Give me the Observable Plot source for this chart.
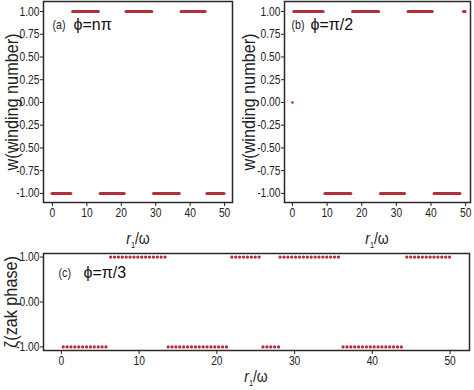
<!DOCTYPE html>
<html><head><meta charset="utf-8">
<script src="https://cdn.jsdelivr.net/npm/d3@7"></script>
<script src="https://cdn.jsdelivr.net/npm/@observablehq/plot@0.6"></script>
<style>
body{margin:0;background:#fff}
#fig{position:relative;width:474px;height:390px;overflow:hidden;background:#fff}
.panel{position:absolute}
.xl{position:absolute;font-family:"Liberation Sans",Arial,sans-serif;font-size:17px;color:#222;line-height:1;white-space:nowrap;transform:translateX(-50%) scaleX(0.82)}
.xl sub{font-size:9px;vertical-align:-4px}
</style></head><body><div id="fig"></div>
<script>
// ---- data ----
const xTicks = [0, 10, 20, 30, 40, 50];
const wTicks = [-1, -0.75, -0.5, -0.25, 0, 0.25, 0.5, 0.75, 1];
const zTicks = [-1, 0, 1];

// (a) phi = n*pi : winding number plateaus
const aStart = [0, 6, 14, 21.5, 29.5, 37.5, 45];
const aEnd   = [5.5, 13.5, 21, 29, 37, 44.5, 50];
const aValue = [-1, 1, -1, 1, -1, 1, -1];

// (b) phi = pi/2
const bStart = [0.5, 9.5, 17.5, 25.5, 33.5, 41, 49.5];
const bEnd   = [9, 17, 25, 32.5, 40.5, 48.5, 50];
const bValue = [1, -1, 1, -1, 1, -1, 1];
const bPointX = [0];
const bPointY = [0];

// (c) phi = pi/3 : zak phase plateaus
const cStart = [0.3, 6.4, 13.8, 22, 26, 28.2, 36.3, 44.5];
const cEnd   = [5.8, 13.5, 21.5, 25.5, 28, 36, 44.1, 50.3];
const cValue = [-1, 1, -1, 1, -1, 1, -1, 1];

const tags = ["(a)", "(b)", "(c)"];
const phis = ["ϕ=nπ", "ϕ=π/2", "ϕ=π/3"];
const yLabels = ["w(winding number)", "w(winding number)", "ζ(zak phase)"];

// ---- drawing ----
const RED = "#b3303b";
const SANS = '"Liberation Sans",Arial,sans-serif';
const fig = document.getElementById("fig");

function segs(s, e, v) { return s.map((x, i) => ({x1: x, x2: e[i], y: v[i]})); }

function condense(el, f) {
  const w = el.getComputedTextLength();
  if (w > 0) {
    el.setAttribute("textLength", (w * f).toFixed(2));
    el.setAttribute("lengthAdjust", "spacingAndGlyphs");
  }
}

function panel(o) {
  const ppu = (o.width - o.mL - o.mR) / (o.xDomain[1] - o.xDomain[0]);
  const marks = [
    Plot.frame({stroke: "#2a2a2a", strokeWidth: 1.5}),
    Plot.axisX({ticks: xTicks, tickSize: 4, tickPadding: 2, tickFormat: d => d, label: null, fontSize: 12.5}),
    Plot.axisY({ticks: o.yTicks, tickSize: 3, tickPadding: 1, tickFormat: d => d.toFixed(2), label: null, fontSize: 12.5}),
    Plot.ruleY(o.data, {x1: "x1", x2: "x2", y: "y", stroke: RED, strokeWidth: o.dotted ? 3.3 : 3,
      strokeLinecap: "round", strokeDasharray: o.dotted ? `0 ${0.5 * ppu}` : null}),
    Plot.text([o.yLabel], {frameAnchor: "left", dx: o.labelDx, rotate: -90, textAnchor: "middle",
      fontSize: 18, fontFamily: SANS, fill: "#222"}),
    Plot.text([o.tag], {frameAnchor: "top-left", dx: o.tagDx, dy: o.tagDy, textAnchor: "start",
      lineAnchor: "middle", fontSize: 13, fontFamily: SANS, fill: "#222"}),
    Plot.text([o.phi], {frameAnchor: "top-left", dx: o.phiDx, dy: o.tagDy, textAnchor: "start",
      lineAnchor: "middle", fontSize: 16, fontFamily: SANS, fill: "#111"})
  ];
  if (o.extra) marks.push(o.extra);
  const svg = Plot.plot({
    width: o.width, height: o.height,
    marginLeft: o.mL, marginRight: o.mR, marginTop: o.mT, marginBottom: o.mB,
    x: {domain: o.xDomain},
    y: {domain: o.yDomain},
    style: {fontFamily: SANS, fontSize: "12.5px", color: "#222", background: "transparent"},
    marks
  });
  const wrap = document.createElement("div");
  wrap.className = "panel";
  wrap.style.left = o.left + "px";
  wrap.style.top = o.top + "px";
  wrap.appendChild(svg);
  fig.appendChild(wrap);
  // narrow (Arial-Narrow-like) tick labels and tags
  svg.querySelectorAll('g[aria-label$="tick label"] text').forEach(t => condense(t, 0.82));
  svg.querySelectorAll('g[aria-label="text"] text').forEach(t => {
    if (t.textContent === o.tag) condense(t, 0.82);
    if (t.textContent === o.yLabel) condense(t, 0.9);
  });
  const xl = document.createElement("div");
  xl.className = "xl";
  xl.innerHTML = "<i>r</i><sub>1</sub>/ω";
  xl.style.left = (o.left + o.mL + (o.width - o.mL - o.mR) / 2) + "px";
  xl.style.top = (o.top + o.xlTop) + "px";
  fig.appendChild(xl);
}

panel({left: 0, top: 0, width: 237, height: 245, mL: 43, mR: 5, mT: 1, mB: 43,
  xDomain: [-2.6, 52.3], yDomain: [-1.1, 1.11], yTicks: wTicks,
  data: segs(aStart, aEnd, aValue), yLabel: yLabels[0], labelDx: -31,
  tag: tags[0], phi: phis[0], tagDx: 9, phiDx: 30, tagDy: 23, xlTop: 230});

panel({left: 237, top: 0, width: 237, height: 245, mL: 47, mR: 4, mT: 1, mB: 43,
  xDomain: [-2.3, 51.4], yDomain: [-1.1, 1.11], yTicks: wTicks,
  data: segs(bStart, bEnd, bValue), yLabel: yLabels[1], labelDx: -35,
  tag: tags[1], phi: phis[1], tagDx: 7, phiDx: 26, tagDy: 23, xlTop: 230,
  extra: Plot.dot(bPointX.map((x, i) => ({x, y: bPointY[i]})), {x: "x", y: "y", r: 1.3, fill: RED, stroke: null})});

panel({left: 0, top: 240, width: 474, height: 150, mL: 43, mR: 5, mT: 13, mB: 40,
  xDomain: [-2.3, 52.5], yDomain: [-1.08, 1.08], yTicks: zTicks,
  data: segs(cStart, cEnd, cValue), yLabel: yLabels[2], labelDx: -32, dotted: true,
  tag: tags[2], phi: phis[2], tagDx: 15, phiDx: 40, tagDy: 19, xlTop: 128});
</script>
</body></html>
